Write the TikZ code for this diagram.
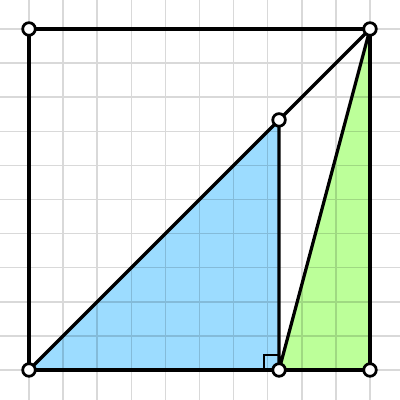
\documentclass[tikz,border=0pt]{standalone}
\usetikzlibrary{calc}
\begin{document}
\begin{tikzpicture}[
  edge/.style={line width=2.7pt, line join=round, line cap=round},
  pt/.style={circle, draw=black, fill=white, line width=2.3pt, inner sep=0pt, minimum size=10.5pt},
  gridline/.style={draw=black, draw opacity=0.15, line width=1.3pt}
]
\definecolor{bluefill}{HTML}{9CDCFF}
\definecolor{greenfill}{HTML}{BCFF99}
\useasboundingbox (-0.85,-0.88) rectangle (10.88,10.85);
\clip (-0.85,-0.88) rectangle (10.88,10.85);
\coordinate (A) at (0,0);
\coordinate (B) at (10,0);
\coordinate (C) at (10,10);
\coordinate (D) at (0,10);
\coordinate (E) at (7.333,7.333);
\coordinate (F) at (7.333,0);
\fill[bluefill] (A) -- (E) -- (F) -- cycle;
\fill[greenfill] (F) -- (C) -- (B) -- cycle;
\draw[gridline] (-1,-1) grid (11,11);
\draw[line width=1.4pt] ($(F)+(-0.44,0)$) -- ++(0,0.44) -- ++(0.44,0);
\draw[edge] (A) -- (D) -- (C) -- (B) -- (A);
\draw[edge] (A) -- (C);
\draw[edge] (E) -- (F) -- (C);
\foreach \p in {A,B,C,D,E,F} \node[pt] (n\p) at (\p) {};
\end{tikzpicture}
\end{document}
